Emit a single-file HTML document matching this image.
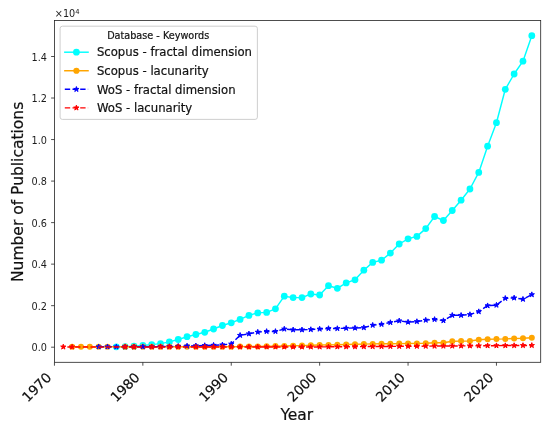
<!DOCTYPE html>
<html><head><meta charset="utf-8"><title>Number of Publications</title>
<style>html,body{margin:0;padding:0;background:#fff}svg{display:block;filter:blur(0.3px)}text{font-family:"DejaVu Sans","Liberation Sans",sans-serif;fill:#111;stroke:#111;stroke-width:0.2px}.s{stroke:none;fill:#1c1c1c}</style></head><body>
<svg width="550" height="428" viewBox="0 0 550 428">
<rect width="550" height="428" fill="#fff"/>
<clipPath id="c"><rect x="54.5" y="20.5" width="486.20000000000005" height="341.8"/></clipPath>
<g clip-path="url(#c)">
<polyline points="116.33,346.80 125.17,346.60 134.01,346.20 142.85,345.50 151.69,344.60 160.53,343.60 169.37,341.90 178.21,339.50 187.05,336.70 195.89,334.50 204.73,332.30 213.57,329.00 222.41,325.50 231.25,322.80 240.09,319.40 248.93,315.40 257.77,312.90 266.61,312.40 275.45,308.80 284.29,296.20 293.13,297.60 301.97,297.60 310.81,294.00 319.65,295.00 328.49,285.70 337.33,288.30 346.17,282.90 355.01,279.80 363.85,270.20 372.69,262.40 381.53,260.20 390.37,253.10 399.21,244.00 408.05,238.80 416.89,236.40 425.73,228.60 434.57,216.50 443.41,220.50 452.25,210.50 461.09,200.20 469.93,189.00 478.77,172.40 487.61,146.20 496.45,122.70 505.29,89.30 514.13,74.00 522.97,61.20 531.81,35.70" fill="none" stroke="#00ffff" stroke-width="1.45" stroke-linejoin="round"/>
<circle cx="116.33" cy="346.80" r="3.39" fill="#00ffff"/>
<circle cx="125.17" cy="346.60" r="3.39" fill="#00ffff"/>
<circle cx="134.01" cy="346.20" r="3.39" fill="#00ffff"/>
<circle cx="142.85" cy="345.50" r="3.39" fill="#00ffff"/>
<circle cx="151.69" cy="344.60" r="3.39" fill="#00ffff"/>
<circle cx="160.53" cy="343.60" r="3.39" fill="#00ffff"/>
<circle cx="169.37" cy="341.90" r="3.39" fill="#00ffff"/>
<circle cx="178.21" cy="339.50" r="3.39" fill="#00ffff"/>
<circle cx="187.05" cy="336.70" r="3.39" fill="#00ffff"/>
<circle cx="195.89" cy="334.50" r="3.39" fill="#00ffff"/>
<circle cx="204.73" cy="332.30" r="3.39" fill="#00ffff"/>
<circle cx="213.57" cy="329.00" r="3.39" fill="#00ffff"/>
<circle cx="222.41" cy="325.50" r="3.39" fill="#00ffff"/>
<circle cx="231.25" cy="322.80" r="3.39" fill="#00ffff"/>
<circle cx="240.09" cy="319.40" r="3.39" fill="#00ffff"/>
<circle cx="248.93" cy="315.40" r="3.39" fill="#00ffff"/>
<circle cx="257.77" cy="312.90" r="3.39" fill="#00ffff"/>
<circle cx="266.61" cy="312.40" r="3.39" fill="#00ffff"/>
<circle cx="275.45" cy="308.80" r="3.39" fill="#00ffff"/>
<circle cx="284.29" cy="296.20" r="3.39" fill="#00ffff"/>
<circle cx="293.13" cy="297.60" r="3.39" fill="#00ffff"/>
<circle cx="301.97" cy="297.60" r="3.39" fill="#00ffff"/>
<circle cx="310.81" cy="294.00" r="3.39" fill="#00ffff"/>
<circle cx="319.65" cy="295.00" r="3.39" fill="#00ffff"/>
<circle cx="328.49" cy="285.70" r="3.39" fill="#00ffff"/>
<circle cx="337.33" cy="288.30" r="3.39" fill="#00ffff"/>
<circle cx="346.17" cy="282.90" r="3.39" fill="#00ffff"/>
<circle cx="355.01" cy="279.80" r="3.39" fill="#00ffff"/>
<circle cx="363.85" cy="270.20" r="3.39" fill="#00ffff"/>
<circle cx="372.69" cy="262.40" r="3.39" fill="#00ffff"/>
<circle cx="381.53" cy="260.20" r="3.39" fill="#00ffff"/>
<circle cx="390.37" cy="253.10" r="3.39" fill="#00ffff"/>
<circle cx="399.21" cy="244.00" r="3.39" fill="#00ffff"/>
<circle cx="408.05" cy="238.80" r="3.39" fill="#00ffff"/>
<circle cx="416.89" cy="236.40" r="3.39" fill="#00ffff"/>
<circle cx="425.73" cy="228.60" r="3.39" fill="#00ffff"/>
<circle cx="434.57" cy="216.50" r="3.39" fill="#00ffff"/>
<circle cx="443.41" cy="220.50" r="3.39" fill="#00ffff"/>
<circle cx="452.25" cy="210.50" r="3.39" fill="#00ffff"/>
<circle cx="461.09" cy="200.20" r="3.39" fill="#00ffff"/>
<circle cx="469.93" cy="189.00" r="3.39" fill="#00ffff"/>
<circle cx="478.77" cy="172.40" r="3.39" fill="#00ffff"/>
<circle cx="487.61" cy="146.20" r="3.39" fill="#00ffff"/>
<circle cx="496.45" cy="122.70" r="3.39" fill="#00ffff"/>
<circle cx="505.29" cy="89.30" r="3.39" fill="#00ffff"/>
<circle cx="514.13" cy="74.00" r="3.39" fill="#00ffff"/>
<circle cx="522.97" cy="61.20" r="3.39" fill="#00ffff"/>
<circle cx="531.81" cy="35.70" r="3.39" fill="#00ffff"/>
<polyline points="72.13,346.80 80.97,346.80 89.81,346.80 98.65,346.80 107.49,346.80 125.17,346.80 134.01,346.80 142.85,346.80 151.69,346.80 160.53,346.80 169.37,346.80 178.21,346.80 187.05,346.80 195.89,346.80 204.73,346.80 213.57,346.80 222.41,346.80 231.25,346.80 240.09,346.60 248.93,346.50 257.77,346.40 266.61,346.30 275.45,346.10 284.29,346.00 293.13,345.80 301.97,345.60 310.81,345.30 319.65,345.00 328.49,344.90 337.33,344.70 346.17,344.50 355.01,344.30 363.85,344.10 372.69,343.90 381.53,343.80 390.37,343.70 399.21,343.60 408.05,343.50 416.89,343.40 425.73,343.30 434.57,342.80 443.41,342.80 452.25,341.30 461.09,341.10 469.93,341.00 478.77,339.80 487.61,339.30 496.45,339.10 505.29,338.90 514.13,338.50 522.97,338.30 531.81,337.80" fill="none" stroke="#ffa500" stroke-width="1.45" stroke-linejoin="round"/>
<circle cx="72.13" cy="346.80" r="3.0" fill="#ffa500"/>
<circle cx="80.97" cy="346.80" r="3.0" fill="#ffa500"/>
<circle cx="89.81" cy="346.80" r="3.0" fill="#ffa500"/>
<circle cx="98.65" cy="346.80" r="3.0" fill="#ffa500"/>
<circle cx="107.49" cy="346.80" r="3.0" fill="#ffa500"/>
<circle cx="125.17" cy="346.80" r="3.0" fill="#ffa500"/>
<circle cx="134.01" cy="346.80" r="3.0" fill="#ffa500"/>
<circle cx="142.85" cy="346.80" r="3.0" fill="#ffa500"/>
<circle cx="151.69" cy="346.80" r="3.0" fill="#ffa500"/>
<circle cx="160.53" cy="346.80" r="3.0" fill="#ffa500"/>
<circle cx="169.37" cy="346.80" r="3.0" fill="#ffa500"/>
<circle cx="178.21" cy="346.80" r="3.0" fill="#ffa500"/>
<circle cx="187.05" cy="346.80" r="3.0" fill="#ffa500"/>
<circle cx="195.89" cy="346.80" r="3.0" fill="#ffa500"/>
<circle cx="204.73" cy="346.80" r="3.0" fill="#ffa500"/>
<circle cx="213.57" cy="346.80" r="3.0" fill="#ffa500"/>
<circle cx="222.41" cy="346.80" r="3.0" fill="#ffa500"/>
<circle cx="231.25" cy="346.80" r="3.0" fill="#ffa500"/>
<circle cx="240.09" cy="346.60" r="3.0" fill="#ffa500"/>
<circle cx="248.93" cy="346.50" r="3.0" fill="#ffa500"/>
<circle cx="257.77" cy="346.40" r="3.0" fill="#ffa500"/>
<circle cx="266.61" cy="346.30" r="3.0" fill="#ffa500"/>
<circle cx="275.45" cy="346.10" r="3.0" fill="#ffa500"/>
<circle cx="284.29" cy="346.00" r="3.0" fill="#ffa500"/>
<circle cx="293.13" cy="345.80" r="3.0" fill="#ffa500"/>
<circle cx="301.97" cy="345.60" r="3.0" fill="#ffa500"/>
<circle cx="310.81" cy="345.30" r="3.0" fill="#ffa500"/>
<circle cx="319.65" cy="345.00" r="3.0" fill="#ffa500"/>
<circle cx="328.49" cy="344.90" r="3.0" fill="#ffa500"/>
<circle cx="337.33" cy="344.70" r="3.0" fill="#ffa500"/>
<circle cx="346.17" cy="344.50" r="3.0" fill="#ffa500"/>
<circle cx="355.01" cy="344.30" r="3.0" fill="#ffa500"/>
<circle cx="363.85" cy="344.10" r="3.0" fill="#ffa500"/>
<circle cx="372.69" cy="343.90" r="3.0" fill="#ffa500"/>
<circle cx="381.53" cy="343.80" r="3.0" fill="#ffa500"/>
<circle cx="390.37" cy="343.70" r="3.0" fill="#ffa500"/>
<circle cx="399.21" cy="343.60" r="3.0" fill="#ffa500"/>
<circle cx="408.05" cy="343.50" r="3.0" fill="#ffa500"/>
<circle cx="416.89" cy="343.40" r="3.0" fill="#ffa500"/>
<circle cx="425.73" cy="343.30" r="3.0" fill="#ffa500"/>
<circle cx="434.57" cy="342.80" r="3.0" fill="#ffa500"/>
<circle cx="443.41" cy="342.80" r="3.0" fill="#ffa500"/>
<circle cx="452.25" cy="341.30" r="3.0" fill="#ffa500"/>
<circle cx="461.09" cy="341.10" r="3.0" fill="#ffa500"/>
<circle cx="469.93" cy="341.00" r="3.0" fill="#ffa500"/>
<circle cx="478.77" cy="339.80" r="3.0" fill="#ffa500"/>
<circle cx="487.61" cy="339.30" r="3.0" fill="#ffa500"/>
<circle cx="496.45" cy="339.10" r="3.0" fill="#ffa500"/>
<circle cx="505.29" cy="338.90" r="3.0" fill="#ffa500"/>
<circle cx="514.13" cy="338.50" r="3.0" fill="#ffa500"/>
<circle cx="522.97" cy="338.30" r="3.0" fill="#ffa500"/>
<circle cx="531.81" cy="337.80" r="3.0" fill="#ffa500"/>
<polyline points="98.65,346.80 107.49,346.80 116.33,346.80 125.17,346.70 134.01,346.70 142.85,346.70 151.69,346.70 160.53,346.60 169.37,346.50 178.21,346.30 187.05,346.00 195.89,345.80 204.73,345.50 213.57,345.20 222.41,344.80 231.25,344.00 240.09,335.30 248.93,333.80 257.77,332.10 266.61,331.40 275.45,331.40 284.29,329.00 293.13,329.80 301.97,329.80 310.81,329.50 319.65,329.00 328.49,328.50 337.33,328.50 346.17,328.20 355.01,328.00 363.85,327.60 372.69,325.20 381.53,324.30 390.37,322.50 399.21,320.80 408.05,322.10 416.89,321.50 425.73,320.10 434.57,319.40 443.41,320.60 452.25,315.30 461.09,315.30 469.93,314.50 478.77,311.60 487.61,305.70 496.45,305.10 505.29,298.30 514.13,297.90 522.97,299.20 531.81,294.60" fill="none" stroke="#0000ff" stroke-width="1.45" stroke-linejoin="round" stroke-dasharray="5.38 2.32"/>
<polygon points="98.65,344.05 99.27,345.95 101.27,345.95 99.65,347.12 100.27,349.02 98.65,347.85 97.03,349.02 97.65,347.12 96.03,345.95 98.03,345.95" fill="#0000ff" stroke="#0000ff" stroke-width="0.97" stroke-linejoin="bevel"/>
<polygon points="107.49,344.05 108.11,345.95 110.11,345.95 108.49,347.12 109.11,349.02 107.49,347.85 105.87,349.02 106.49,347.12 104.87,345.95 106.87,345.95" fill="#0000ff" stroke="#0000ff" stroke-width="0.97" stroke-linejoin="bevel"/>
<polygon points="116.33,344.05 116.95,345.95 118.95,345.95 117.33,347.12 117.95,349.02 116.33,347.85 114.71,349.02 115.33,347.12 113.71,345.95 115.71,345.95" fill="#0000ff" stroke="#0000ff" stroke-width="0.97" stroke-linejoin="bevel"/>
<polygon points="125.17,343.95 125.79,345.85 127.79,345.85 126.17,347.02 126.79,348.92 125.17,347.75 123.55,348.92 124.17,347.02 122.55,345.85 124.55,345.85" fill="#0000ff" stroke="#0000ff" stroke-width="0.97" stroke-linejoin="bevel"/>
<polygon points="134.01,343.95 134.63,345.85 136.63,345.85 135.01,347.02 135.63,348.92 134.01,347.75 132.39,348.92 133.01,347.02 131.39,345.85 133.39,345.85" fill="#0000ff" stroke="#0000ff" stroke-width="0.97" stroke-linejoin="bevel"/>
<polygon points="142.85,343.95 143.47,345.85 145.47,345.85 143.85,347.02 144.47,348.92 142.85,347.75 141.23,348.92 141.85,347.02 140.23,345.85 142.23,345.85" fill="#0000ff" stroke="#0000ff" stroke-width="0.97" stroke-linejoin="bevel"/>
<polygon points="151.69,343.95 152.31,345.85 154.31,345.85 152.69,347.02 153.31,348.92 151.69,347.75 150.07,348.92 150.69,347.02 149.07,345.85 151.07,345.85" fill="#0000ff" stroke="#0000ff" stroke-width="0.97" stroke-linejoin="bevel"/>
<polygon points="160.53,343.85 161.15,345.75 163.15,345.75 161.53,346.92 162.15,348.82 160.53,347.65 158.91,348.82 159.53,346.92 157.91,345.75 159.91,345.75" fill="#0000ff" stroke="#0000ff" stroke-width="0.97" stroke-linejoin="bevel"/>
<polygon points="169.37,343.75 169.99,345.65 171.99,345.65 170.37,346.82 170.99,348.72 169.37,347.55 167.75,348.72 168.37,346.82 166.75,345.65 168.75,345.65" fill="#0000ff" stroke="#0000ff" stroke-width="0.97" stroke-linejoin="bevel"/>
<polygon points="178.21,343.55 178.83,345.45 180.83,345.45 179.21,346.62 179.83,348.52 178.21,347.35 176.59,348.52 177.21,346.62 175.59,345.45 177.59,345.45" fill="#0000ff" stroke="#0000ff" stroke-width="0.97" stroke-linejoin="bevel"/>
<polygon points="187.05,343.25 187.67,345.15 189.67,345.15 188.05,346.32 188.67,348.22 187.05,347.05 185.43,348.22 186.05,346.32 184.43,345.15 186.43,345.15" fill="#0000ff" stroke="#0000ff" stroke-width="0.97" stroke-linejoin="bevel"/>
<polygon points="195.89,343.05 196.51,344.95 198.51,344.95 196.89,346.12 197.51,348.02 195.89,346.85 194.27,348.02 194.89,346.12 193.27,344.95 195.27,344.95" fill="#0000ff" stroke="#0000ff" stroke-width="0.97" stroke-linejoin="bevel"/>
<polygon points="204.73,342.75 205.35,344.65 207.35,344.65 205.73,345.82 206.35,347.72 204.73,346.55 203.11,347.72 203.73,345.82 202.11,344.65 204.11,344.65" fill="#0000ff" stroke="#0000ff" stroke-width="0.97" stroke-linejoin="bevel"/>
<polygon points="213.57,342.45 214.19,344.35 216.19,344.35 214.57,345.52 215.19,347.42 213.57,346.25 211.95,347.42 212.57,345.52 210.95,344.35 212.95,344.35" fill="#0000ff" stroke="#0000ff" stroke-width="0.97" stroke-linejoin="bevel"/>
<polygon points="222.41,342.05 223.03,343.95 225.03,343.95 223.41,345.12 224.03,347.02 222.41,345.85 220.79,347.02 221.41,345.12 219.79,343.95 221.79,343.95" fill="#0000ff" stroke="#0000ff" stroke-width="0.97" stroke-linejoin="bevel"/>
<polygon points="231.25,341.25 231.87,343.15 233.87,343.15 232.25,344.32 232.87,346.22 231.25,345.05 229.63,346.22 230.25,344.32 228.63,343.15 230.63,343.15" fill="#0000ff" stroke="#0000ff" stroke-width="0.97" stroke-linejoin="bevel"/>
<polygon points="240.09,332.55 240.71,334.45 242.71,334.45 241.09,335.62 241.71,337.52 240.09,336.35 238.47,337.52 239.09,335.62 237.47,334.45 239.47,334.45" fill="#0000ff" stroke="#0000ff" stroke-width="0.97" stroke-linejoin="bevel"/>
<polygon points="248.93,331.05 249.55,332.95 251.55,332.95 249.93,334.12 250.55,336.02 248.93,334.85 247.31,336.02 247.93,334.12 246.31,332.95 248.31,332.95" fill="#0000ff" stroke="#0000ff" stroke-width="0.97" stroke-linejoin="bevel"/>
<polygon points="257.77,329.35 258.39,331.25 260.39,331.25 258.77,332.42 259.39,334.32 257.77,333.15 256.15,334.32 256.77,332.42 255.15,331.25 257.15,331.25" fill="#0000ff" stroke="#0000ff" stroke-width="0.97" stroke-linejoin="bevel"/>
<polygon points="266.61,328.65 267.23,330.55 269.23,330.55 267.61,331.72 268.23,333.62 266.61,332.45 264.99,333.62 265.61,331.72 263.99,330.55 265.99,330.55" fill="#0000ff" stroke="#0000ff" stroke-width="0.97" stroke-linejoin="bevel"/>
<polygon points="275.45,328.65 276.07,330.55 278.07,330.55 276.45,331.72 277.07,333.62 275.45,332.45 273.83,333.62 274.45,331.72 272.83,330.55 274.83,330.55" fill="#0000ff" stroke="#0000ff" stroke-width="0.97" stroke-linejoin="bevel"/>
<polygon points="284.29,326.25 284.91,328.15 286.91,328.15 285.29,329.32 285.91,331.22 284.29,330.05 282.67,331.22 283.29,329.32 281.67,328.15 283.67,328.15" fill="#0000ff" stroke="#0000ff" stroke-width="0.97" stroke-linejoin="bevel"/>
<polygon points="293.13,327.05 293.75,328.95 295.75,328.95 294.13,330.12 294.75,332.02 293.13,330.85 291.51,332.02 292.13,330.12 290.51,328.95 292.51,328.95" fill="#0000ff" stroke="#0000ff" stroke-width="0.97" stroke-linejoin="bevel"/>
<polygon points="301.97,327.05 302.59,328.95 304.59,328.95 302.97,330.12 303.59,332.02 301.97,330.85 300.35,332.02 300.97,330.12 299.35,328.95 301.35,328.95" fill="#0000ff" stroke="#0000ff" stroke-width="0.97" stroke-linejoin="bevel"/>
<polygon points="310.81,326.75 311.43,328.65 313.43,328.65 311.81,329.82 312.43,331.72 310.81,330.55 309.19,331.72 309.81,329.82 308.19,328.65 310.19,328.65" fill="#0000ff" stroke="#0000ff" stroke-width="0.97" stroke-linejoin="bevel"/>
<polygon points="319.65,326.25 320.27,328.15 322.27,328.15 320.65,329.32 321.27,331.22 319.65,330.05 318.03,331.22 318.65,329.32 317.03,328.15 319.03,328.15" fill="#0000ff" stroke="#0000ff" stroke-width="0.97" stroke-linejoin="bevel"/>
<polygon points="328.49,325.75 329.11,327.65 331.11,327.65 329.49,328.82 330.11,330.72 328.49,329.55 326.87,330.72 327.49,328.82 325.87,327.65 327.87,327.65" fill="#0000ff" stroke="#0000ff" stroke-width="0.97" stroke-linejoin="bevel"/>
<polygon points="337.33,325.75 337.95,327.65 339.95,327.65 338.33,328.82 338.95,330.72 337.33,329.55 335.71,330.72 336.33,328.82 334.71,327.65 336.71,327.65" fill="#0000ff" stroke="#0000ff" stroke-width="0.97" stroke-linejoin="bevel"/>
<polygon points="346.17,325.45 346.79,327.35 348.79,327.35 347.17,328.52 347.79,330.42 346.17,329.25 344.55,330.42 345.17,328.52 343.55,327.35 345.55,327.35" fill="#0000ff" stroke="#0000ff" stroke-width="0.97" stroke-linejoin="bevel"/>
<polygon points="355.01,325.25 355.63,327.15 357.63,327.15 356.01,328.32 356.63,330.22 355.01,329.05 353.39,330.22 354.01,328.32 352.39,327.15 354.39,327.15" fill="#0000ff" stroke="#0000ff" stroke-width="0.97" stroke-linejoin="bevel"/>
<polygon points="363.85,324.85 364.47,326.75 366.47,326.75 364.85,327.92 365.47,329.82 363.85,328.65 362.23,329.82 362.85,327.92 361.23,326.75 363.23,326.75" fill="#0000ff" stroke="#0000ff" stroke-width="0.97" stroke-linejoin="bevel"/>
<polygon points="372.69,322.45 373.31,324.35 375.31,324.35 373.69,325.52 374.31,327.42 372.69,326.25 371.07,327.42 371.69,325.52 370.07,324.35 372.07,324.35" fill="#0000ff" stroke="#0000ff" stroke-width="0.97" stroke-linejoin="bevel"/>
<polygon points="381.53,321.55 382.15,323.45 384.15,323.45 382.53,324.62 383.15,326.52 381.53,325.35 379.91,326.52 380.53,324.62 378.91,323.45 380.91,323.45" fill="#0000ff" stroke="#0000ff" stroke-width="0.97" stroke-linejoin="bevel"/>
<polygon points="390.37,319.75 390.99,321.65 392.99,321.65 391.37,322.82 391.99,324.72 390.37,323.55 388.75,324.72 389.37,322.82 387.75,321.65 389.75,321.65" fill="#0000ff" stroke="#0000ff" stroke-width="0.97" stroke-linejoin="bevel"/>
<polygon points="399.21,318.05 399.83,319.95 401.83,319.95 400.21,321.12 400.83,323.02 399.21,321.85 397.59,323.02 398.21,321.12 396.59,319.95 398.59,319.95" fill="#0000ff" stroke="#0000ff" stroke-width="0.97" stroke-linejoin="bevel"/>
<polygon points="408.05,319.35 408.67,321.25 410.67,321.25 409.05,322.42 409.67,324.32 408.05,323.15 406.43,324.32 407.05,322.42 405.43,321.25 407.43,321.25" fill="#0000ff" stroke="#0000ff" stroke-width="0.97" stroke-linejoin="bevel"/>
<polygon points="416.89,318.75 417.51,320.65 419.51,320.65 417.89,321.82 418.51,323.72 416.89,322.55 415.27,323.72 415.89,321.82 414.27,320.65 416.27,320.65" fill="#0000ff" stroke="#0000ff" stroke-width="0.97" stroke-linejoin="bevel"/>
<polygon points="425.73,317.35 426.35,319.25 428.35,319.25 426.73,320.42 427.35,322.32 425.73,321.15 424.11,322.32 424.73,320.42 423.11,319.25 425.11,319.25" fill="#0000ff" stroke="#0000ff" stroke-width="0.97" stroke-linejoin="bevel"/>
<polygon points="434.57,316.65 435.19,318.55 437.19,318.55 435.57,319.72 436.19,321.62 434.57,320.45 432.95,321.62 433.57,319.72 431.95,318.55 433.95,318.55" fill="#0000ff" stroke="#0000ff" stroke-width="0.97" stroke-linejoin="bevel"/>
<polygon points="443.41,317.85 444.03,319.75 446.03,319.75 444.41,320.92 445.03,322.82 443.41,321.65 441.79,322.82 442.41,320.92 440.79,319.75 442.79,319.75" fill="#0000ff" stroke="#0000ff" stroke-width="0.97" stroke-linejoin="bevel"/>
<polygon points="452.25,312.55 452.87,314.45 454.87,314.45 453.25,315.62 453.87,317.52 452.25,316.35 450.63,317.52 451.25,315.62 449.63,314.45 451.63,314.45" fill="#0000ff" stroke="#0000ff" stroke-width="0.97" stroke-linejoin="bevel"/>
<polygon points="461.09,312.55 461.71,314.45 463.71,314.45 462.09,315.62 462.71,317.52 461.09,316.35 459.47,317.52 460.09,315.62 458.47,314.45 460.47,314.45" fill="#0000ff" stroke="#0000ff" stroke-width="0.97" stroke-linejoin="bevel"/>
<polygon points="469.93,311.75 470.55,313.65 472.55,313.65 470.93,314.82 471.55,316.72 469.93,315.55 468.31,316.72 468.93,314.82 467.31,313.65 469.31,313.65" fill="#0000ff" stroke="#0000ff" stroke-width="0.97" stroke-linejoin="bevel"/>
<polygon points="478.77,308.85 479.39,310.75 481.39,310.75 479.77,311.92 480.39,313.82 478.77,312.65 477.15,313.82 477.77,311.92 476.15,310.75 478.15,310.75" fill="#0000ff" stroke="#0000ff" stroke-width="0.97" stroke-linejoin="bevel"/>
<polygon points="487.61,302.95 488.23,304.85 490.23,304.85 488.61,306.02 489.23,307.92 487.61,306.75 485.99,307.92 486.61,306.02 484.99,304.85 486.99,304.85" fill="#0000ff" stroke="#0000ff" stroke-width="0.97" stroke-linejoin="bevel"/>
<polygon points="496.45,302.35 497.07,304.25 499.07,304.25 497.45,305.42 498.07,307.32 496.45,306.15 494.83,307.32 495.45,305.42 493.83,304.25 495.83,304.25" fill="#0000ff" stroke="#0000ff" stroke-width="0.97" stroke-linejoin="bevel"/>
<polygon points="505.29,295.55 505.91,297.45 507.91,297.45 506.29,298.62 506.91,300.52 505.29,299.35 503.67,300.52 504.29,298.62 502.67,297.45 504.67,297.45" fill="#0000ff" stroke="#0000ff" stroke-width="0.97" stroke-linejoin="bevel"/>
<polygon points="514.13,295.15 514.75,297.05 516.75,297.05 515.13,298.22 515.75,300.12 514.13,298.95 512.51,300.12 513.13,298.22 511.51,297.05 513.51,297.05" fill="#0000ff" stroke="#0000ff" stroke-width="0.97" stroke-linejoin="bevel"/>
<polygon points="522.97,296.45 523.59,298.35 525.59,298.35 523.97,299.52 524.59,301.42 522.97,300.25 521.35,301.42 521.97,299.52 520.35,298.35 522.35,298.35" fill="#0000ff" stroke="#0000ff" stroke-width="0.97" stroke-linejoin="bevel"/>
<polygon points="531.81,291.85 532.43,293.75 534.43,293.75 532.81,294.92 533.43,296.82 531.81,295.65 530.19,296.82 530.81,294.92 529.19,293.75 531.19,293.75" fill="#0000ff" stroke="#0000ff" stroke-width="0.97" stroke-linejoin="bevel"/>
<polyline points="63.29,346.90 72.13,346.90 125.17,346.90 134.01,346.90 151.69,346.90 160.53,346.90 169.37,346.90 178.21,346.90 195.89,346.90 204.73,346.90 213.57,346.90 222.41,346.90 231.25,346.90 240.09,346.90 248.93,346.90 257.77,346.90 266.61,346.90 275.45,346.90 284.29,346.90 293.13,346.90 301.97,346.90 310.81,346.90 319.65,346.90 328.49,346.84 337.33,346.77 346.17,346.71 355.01,346.65 363.85,346.59 372.69,346.52 381.53,346.46 390.37,346.40 399.21,346.34 408.05,346.27 416.89,346.21 425.73,346.15 434.57,346.09 443.41,346.02 452.25,345.96 461.09,345.90 469.93,345.84 478.77,345.77 487.61,345.71 496.45,345.65 505.29,345.59 514.13,345.52 522.97,345.46 531.81,345.40" fill="none" stroke="#ff0000" stroke-width="1.45" stroke-linejoin="round" stroke-dasharray="5.38 2.32" stroke-dashoffset="3.6"/>
<polygon points="63.29,344.15 63.91,346.05 65.91,346.05 64.29,347.22 64.91,349.12 63.29,347.95 61.67,349.12 62.29,347.22 60.67,346.05 62.67,346.05" fill="#ff0000" stroke="#ff0000" stroke-width="0.97" stroke-linejoin="bevel"/>
<polygon points="72.13,344.15 72.75,346.05 74.75,346.05 73.13,347.22 73.75,349.12 72.13,347.95 70.51,349.12 71.13,347.22 69.51,346.05 71.51,346.05" fill="#ff0000" stroke="#ff0000" stroke-width="0.97" stroke-linejoin="bevel"/>
<polygon points="125.17,344.15 125.79,346.05 127.79,346.05 126.17,347.22 126.79,349.12 125.17,347.95 123.55,349.12 124.17,347.22 122.55,346.05 124.55,346.05" fill="#ff0000" stroke="#ff0000" stroke-width="0.97" stroke-linejoin="bevel"/>
<polygon points="134.01,344.15 134.63,346.05 136.63,346.05 135.01,347.22 135.63,349.12 134.01,347.95 132.39,349.12 133.01,347.22 131.39,346.05 133.39,346.05" fill="#ff0000" stroke="#ff0000" stroke-width="0.97" stroke-linejoin="bevel"/>
<polygon points="151.69,344.15 152.31,346.05 154.31,346.05 152.69,347.22 153.31,349.12 151.69,347.95 150.07,349.12 150.69,347.22 149.07,346.05 151.07,346.05" fill="#ff0000" stroke="#ff0000" stroke-width="0.97" stroke-linejoin="bevel"/>
<polygon points="160.53,344.15 161.15,346.05 163.15,346.05 161.53,347.22 162.15,349.12 160.53,347.95 158.91,349.12 159.53,347.22 157.91,346.05 159.91,346.05" fill="#ff0000" stroke="#ff0000" stroke-width="0.97" stroke-linejoin="bevel"/>
<polygon points="169.37,344.15 169.99,346.05 171.99,346.05 170.37,347.22 170.99,349.12 169.37,347.95 167.75,349.12 168.37,347.22 166.75,346.05 168.75,346.05" fill="#ff0000" stroke="#ff0000" stroke-width="0.97" stroke-linejoin="bevel"/>
<polygon points="178.21,344.15 178.83,346.05 180.83,346.05 179.21,347.22 179.83,349.12 178.21,347.95 176.59,349.12 177.21,347.22 175.59,346.05 177.59,346.05" fill="#ff0000" stroke="#ff0000" stroke-width="0.97" stroke-linejoin="bevel"/>
<polygon points="195.89,344.15 196.51,346.05 198.51,346.05 196.89,347.22 197.51,349.12 195.89,347.95 194.27,349.12 194.89,347.22 193.27,346.05 195.27,346.05" fill="#ff0000" stroke="#ff0000" stroke-width="0.97" stroke-linejoin="bevel"/>
<polygon points="204.73,344.15 205.35,346.05 207.35,346.05 205.73,347.22 206.35,349.12 204.73,347.95 203.11,349.12 203.73,347.22 202.11,346.05 204.11,346.05" fill="#ff0000" stroke="#ff0000" stroke-width="0.97" stroke-linejoin="bevel"/>
<polygon points="213.57,344.15 214.19,346.05 216.19,346.05 214.57,347.22 215.19,349.12 213.57,347.95 211.95,349.12 212.57,347.22 210.95,346.05 212.95,346.05" fill="#ff0000" stroke="#ff0000" stroke-width="0.97" stroke-linejoin="bevel"/>
<polygon points="222.41,344.15 223.03,346.05 225.03,346.05 223.41,347.22 224.03,349.12 222.41,347.95 220.79,349.12 221.41,347.22 219.79,346.05 221.79,346.05" fill="#ff0000" stroke="#ff0000" stroke-width="0.97" stroke-linejoin="bevel"/>
<polygon points="231.25,344.15 231.87,346.05 233.87,346.05 232.25,347.22 232.87,349.12 231.25,347.95 229.63,349.12 230.25,347.22 228.63,346.05 230.63,346.05" fill="#ff0000" stroke="#ff0000" stroke-width="0.97" stroke-linejoin="bevel"/>
<polygon points="240.09,344.15 240.71,346.05 242.71,346.05 241.09,347.22 241.71,349.12 240.09,347.95 238.47,349.12 239.09,347.22 237.47,346.05 239.47,346.05" fill="#ff0000" stroke="#ff0000" stroke-width="0.97" stroke-linejoin="bevel"/>
<polygon points="248.93,344.15 249.55,346.05 251.55,346.05 249.93,347.22 250.55,349.12 248.93,347.95 247.31,349.12 247.93,347.22 246.31,346.05 248.31,346.05" fill="#ff0000" stroke="#ff0000" stroke-width="0.97" stroke-linejoin="bevel"/>
<polygon points="257.77,344.15 258.39,346.05 260.39,346.05 258.77,347.22 259.39,349.12 257.77,347.95 256.15,349.12 256.77,347.22 255.15,346.05 257.15,346.05" fill="#ff0000" stroke="#ff0000" stroke-width="0.97" stroke-linejoin="bevel"/>
<polygon points="266.61,344.15 267.23,346.05 269.23,346.05 267.61,347.22 268.23,349.12 266.61,347.95 264.99,349.12 265.61,347.22 263.99,346.05 265.99,346.05" fill="#ff0000" stroke="#ff0000" stroke-width="0.97" stroke-linejoin="bevel"/>
<polygon points="275.45,344.15 276.07,346.05 278.07,346.05 276.45,347.22 277.07,349.12 275.45,347.95 273.83,349.12 274.45,347.22 272.83,346.05 274.83,346.05" fill="#ff0000" stroke="#ff0000" stroke-width="0.97" stroke-linejoin="bevel"/>
<polygon points="284.29,344.15 284.91,346.05 286.91,346.05 285.29,347.22 285.91,349.12 284.29,347.95 282.67,349.12 283.29,347.22 281.67,346.05 283.67,346.05" fill="#ff0000" stroke="#ff0000" stroke-width="0.97" stroke-linejoin="bevel"/>
<polygon points="293.13,344.15 293.75,346.05 295.75,346.05 294.13,347.22 294.75,349.12 293.13,347.95 291.51,349.12 292.13,347.22 290.51,346.05 292.51,346.05" fill="#ff0000" stroke="#ff0000" stroke-width="0.97" stroke-linejoin="bevel"/>
<polygon points="301.97,344.15 302.59,346.05 304.59,346.05 302.97,347.22 303.59,349.12 301.97,347.95 300.35,349.12 300.97,347.22 299.35,346.05 301.35,346.05" fill="#ff0000" stroke="#ff0000" stroke-width="0.97" stroke-linejoin="bevel"/>
<polygon points="310.81,344.15 311.43,346.05 313.43,346.05 311.81,347.22 312.43,349.12 310.81,347.95 309.19,349.12 309.81,347.22 308.19,346.05 310.19,346.05" fill="#ff0000" stroke="#ff0000" stroke-width="0.97" stroke-linejoin="bevel"/>
<polygon points="319.65,344.15 320.27,346.05 322.27,346.05 320.65,347.22 321.27,349.12 319.65,347.95 318.03,349.12 318.65,347.22 317.03,346.05 319.03,346.05" fill="#ff0000" stroke="#ff0000" stroke-width="0.97" stroke-linejoin="bevel"/>
<polygon points="328.49,344.09 329.11,345.99 331.11,345.99 329.49,347.16 330.11,349.06 328.49,347.89 326.87,349.06 327.49,347.16 325.87,345.99 327.87,345.99" fill="#ff0000" stroke="#ff0000" stroke-width="0.97" stroke-linejoin="bevel"/>
<polygon points="337.33,344.02 337.95,345.93 339.95,345.93 338.33,347.10 338.95,349.00 337.33,347.83 335.71,349.00 336.33,347.10 334.71,345.93 336.71,345.93" fill="#ff0000" stroke="#ff0000" stroke-width="0.97" stroke-linejoin="bevel"/>
<polygon points="346.17,343.96 346.79,345.86 348.79,345.86 347.17,347.04 347.79,348.94 346.17,347.76 344.55,348.94 345.17,347.04 343.55,345.86 345.55,345.86" fill="#ff0000" stroke="#ff0000" stroke-width="0.97" stroke-linejoin="bevel"/>
<polygon points="355.01,343.90 355.63,345.80 357.63,345.80 356.01,346.97 356.63,348.87 355.01,347.70 353.39,348.87 354.01,346.97 352.39,345.80 354.39,345.80" fill="#ff0000" stroke="#ff0000" stroke-width="0.97" stroke-linejoin="bevel"/>
<polygon points="363.85,343.84 364.47,345.74 366.47,345.74 364.85,346.91 365.47,348.81 363.85,347.64 362.23,348.81 362.85,346.91 361.23,345.74 363.23,345.74" fill="#ff0000" stroke="#ff0000" stroke-width="0.97" stroke-linejoin="bevel"/>
<polygon points="372.69,343.77 373.31,345.68 375.31,345.68 373.69,346.85 374.31,348.75 372.69,347.58 371.07,348.75 371.69,346.85 370.07,345.68 372.07,345.68" fill="#ff0000" stroke="#ff0000" stroke-width="0.97" stroke-linejoin="bevel"/>
<polygon points="381.53,343.71 382.15,345.61 384.15,345.61 382.53,346.79 383.15,348.69 381.53,347.51 379.91,348.69 380.53,346.79 378.91,345.61 380.91,345.61" fill="#ff0000" stroke="#ff0000" stroke-width="0.97" stroke-linejoin="bevel"/>
<polygon points="390.37,343.65 390.99,345.55 392.99,345.55 391.37,346.72 391.99,348.62 390.37,347.45 388.75,348.62 389.37,346.72 387.75,345.55 389.75,345.55" fill="#ff0000" stroke="#ff0000" stroke-width="0.97" stroke-linejoin="bevel"/>
<polygon points="399.21,343.59 399.83,345.49 401.83,345.49 400.21,346.66 400.83,348.56 399.21,347.39 397.59,348.56 398.21,346.66 396.59,345.49 398.59,345.49" fill="#ff0000" stroke="#ff0000" stroke-width="0.97" stroke-linejoin="bevel"/>
<polygon points="408.05,343.52 408.67,345.43 410.67,345.43 409.05,346.60 409.67,348.50 408.05,347.33 406.43,348.50 407.05,346.60 405.43,345.43 407.43,345.43" fill="#ff0000" stroke="#ff0000" stroke-width="0.97" stroke-linejoin="bevel"/>
<polygon points="416.89,343.46 417.51,345.36 419.51,345.36 417.89,346.54 418.51,348.44 416.89,347.26 415.27,348.44 415.89,346.54 414.27,345.36 416.27,345.36" fill="#ff0000" stroke="#ff0000" stroke-width="0.97" stroke-linejoin="bevel"/>
<polygon points="425.73,343.40 426.35,345.30 428.35,345.30 426.73,346.47 427.35,348.37 425.73,347.20 424.11,348.37 424.73,346.47 423.11,345.30 425.11,345.30" fill="#ff0000" stroke="#ff0000" stroke-width="0.97" stroke-linejoin="bevel"/>
<polygon points="434.57,343.34 435.19,345.24 437.19,345.24 435.57,346.41 436.19,348.31 434.57,347.14 432.95,348.31 433.57,346.41 431.95,345.24 433.95,345.24" fill="#ff0000" stroke="#ff0000" stroke-width="0.97" stroke-linejoin="bevel"/>
<polygon points="443.41,343.27 444.03,345.18 446.03,345.18 444.41,346.35 445.03,348.25 443.41,347.08 441.79,348.25 442.41,346.35 440.79,345.18 442.79,345.18" fill="#ff0000" stroke="#ff0000" stroke-width="0.97" stroke-linejoin="bevel"/>
<polygon points="452.25,343.21 452.87,345.11 454.87,345.11 453.25,346.29 453.87,348.19 452.25,347.01 450.63,348.19 451.25,346.29 449.63,345.11 451.63,345.11" fill="#ff0000" stroke="#ff0000" stroke-width="0.97" stroke-linejoin="bevel"/>
<polygon points="461.09,343.15 461.71,345.05 463.71,345.05 462.09,346.22 462.71,348.12 461.09,346.95 459.47,348.12 460.09,346.22 458.47,345.05 460.47,345.05" fill="#ff0000" stroke="#ff0000" stroke-width="0.97" stroke-linejoin="bevel"/>
<polygon points="469.93,343.09 470.55,344.99 472.55,344.99 470.93,346.16 471.55,348.06 469.93,346.89 468.31,348.06 468.93,346.16 467.31,344.99 469.31,344.99" fill="#ff0000" stroke="#ff0000" stroke-width="0.97" stroke-linejoin="bevel"/>
<polygon points="478.77,343.02 479.39,344.93 481.39,344.93 479.77,346.10 480.39,348.00 478.77,346.83 477.15,348.00 477.77,346.10 476.15,344.93 478.15,344.93" fill="#ff0000" stroke="#ff0000" stroke-width="0.97" stroke-linejoin="bevel"/>
<polygon points="487.61,342.96 488.23,344.86 490.23,344.86 488.61,346.04 489.23,347.94 487.61,346.76 485.99,347.94 486.61,346.04 484.99,344.86 486.99,344.86" fill="#ff0000" stroke="#ff0000" stroke-width="0.97" stroke-linejoin="bevel"/>
<polygon points="496.45,342.90 497.07,344.80 499.07,344.80 497.45,345.97 498.07,347.87 496.45,346.70 494.83,347.87 495.45,345.97 493.83,344.80 495.83,344.80" fill="#ff0000" stroke="#ff0000" stroke-width="0.97" stroke-linejoin="bevel"/>
<polygon points="505.29,342.84 505.91,344.74 507.91,344.74 506.29,345.91 506.91,347.81 505.29,346.64 503.67,347.81 504.29,345.91 502.67,344.74 504.67,344.74" fill="#ff0000" stroke="#ff0000" stroke-width="0.97" stroke-linejoin="bevel"/>
<polygon points="514.13,342.77 514.75,344.68 516.75,344.68 515.13,345.85 515.75,347.75 514.13,346.58 512.51,347.75 513.13,345.85 511.51,344.68 513.51,344.68" fill="#ff0000" stroke="#ff0000" stroke-width="0.97" stroke-linejoin="bevel"/>
<polygon points="522.97,342.71 523.59,344.61 525.59,344.61 523.97,345.79 524.59,347.69 522.97,346.51 521.35,347.69 521.97,345.79 520.35,344.61 522.35,344.61" fill="#ff0000" stroke="#ff0000" stroke-width="0.97" stroke-linejoin="bevel"/>
<polygon points="531.81,342.65 532.43,344.55 534.43,344.55 532.81,345.72 533.43,347.62 531.81,346.45 530.19,347.62 530.81,345.72 529.19,344.55 531.19,344.55" fill="#ff0000" stroke="#ff0000" stroke-width="0.97" stroke-linejoin="bevel"/>
</g>
<rect x="54.5" y="20.5" width="486.20000000000005" height="341.8" fill="none" stroke="#222" stroke-width="0.8"/>
<line x1="54.45" y1="362.3" x2="54.45" y2="365.7" stroke="#222" stroke-width="0.8"/>
<text transform="translate(52.25,378.30) rotate(-45)" text-anchor="end" font-size="13.56">1970</text>
<line x1="142.85" y1="362.3" x2="142.85" y2="365.7" stroke="#222" stroke-width="0.8"/>
<text transform="translate(140.65,378.30) rotate(-45)" text-anchor="end" font-size="13.56">1980</text>
<line x1="231.25" y1="362.3" x2="231.25" y2="365.7" stroke="#222" stroke-width="0.8"/>
<text transform="translate(229.05,378.30) rotate(-45)" text-anchor="end" font-size="13.56">1990</text>
<line x1="319.65" y1="362.3" x2="319.65" y2="365.7" stroke="#222" stroke-width="0.8"/>
<text transform="translate(317.45,378.30) rotate(-45)" text-anchor="end" font-size="13.56">2000</text>
<line x1="408.05" y1="362.3" x2="408.05" y2="365.7" stroke="#222" stroke-width="0.8"/>
<text transform="translate(405.85,378.30) rotate(-45)" text-anchor="end" font-size="13.56">2010</text>
<line x1="496.45" y1="362.3" x2="496.45" y2="365.7" stroke="#222" stroke-width="0.8"/>
<text transform="translate(494.25,378.30) rotate(-45)" text-anchor="end" font-size="13.56">2020</text>
<line x1="51.1" y1="347.20" x2="54.5" y2="347.20" stroke="#222" stroke-width="0.8"/>
<text x="46.90" y="351.20" text-anchor="end" class="s" font-size="9.69">0.0</text>
<line x1="51.1" y1="305.67" x2="54.5" y2="305.67" stroke="#222" stroke-width="0.8"/>
<text x="46.90" y="309.67" text-anchor="end" class="s" font-size="9.69">0.2</text>
<line x1="51.1" y1="264.14" x2="54.5" y2="264.14" stroke="#222" stroke-width="0.8"/>
<text x="46.90" y="268.14" text-anchor="end" class="s" font-size="9.69">0.4</text>
<line x1="51.1" y1="222.62" x2="54.5" y2="222.62" stroke="#222" stroke-width="0.8"/>
<text x="46.90" y="226.62" text-anchor="end" class="s" font-size="9.69">0.6</text>
<line x1="51.1" y1="181.09" x2="54.5" y2="181.09" stroke="#222" stroke-width="0.8"/>
<text x="46.90" y="185.09" text-anchor="end" class="s" font-size="9.69">0.8</text>
<line x1="51.1" y1="139.56" x2="54.5" y2="139.56" stroke="#222" stroke-width="0.8"/>
<text x="46.90" y="143.56" text-anchor="end" class="s" font-size="9.69">1.0</text>
<line x1="51.1" y1="98.03" x2="54.5" y2="98.03" stroke="#222" stroke-width="0.8"/>
<text x="46.90" y="102.03" text-anchor="end" class="s" font-size="9.69">1.2</text>
<line x1="51.1" y1="56.50" x2="54.5" y2="56.50" stroke="#222" stroke-width="0.8"/>
<text x="46.90" y="60.50" text-anchor="end" class="s" font-size="9.69">1.4</text>
<text x="54.8" y="17.2" class="s" font-size="9.69">×10<tspan dy="-3.7" font-size="6.8">4</tspan></text>
<text x="296.80" y="419.5" text-anchor="middle" font-size="15.5">Year</text>
<text transform="translate(23.1,191.90) rotate(-90)" text-anchor="middle" font-size="15.5">Number of Publications</text>
<rect x="60.1" y="26.2" width="197.3" height="93.2" rx="2.3" fill="#fff" fill-opacity="0.8" stroke="#ccc" stroke-width="0.97"/>
<text x="158.2" y="39.2" text-anchor="middle" font-size="9.69">Database - Keywords</text>
<line x1="64.1" y1="52.20" x2="88.8" y2="52.20" stroke="#00ffff" stroke-width="1.45"/>
<circle cx="76.4" cy="52.20" r="3.39" fill="#00ffff"/>
<text x="96.9" y="56.30" font-size="11.68">Scopus - fractal dimension</text>
<line x1="64.1" y1="70.75" x2="88.8" y2="70.75" stroke="#ffa500" stroke-width="1.45"/>
<circle cx="76.4" cy="70.75" r="3.1" fill="#ffa500"/>
<text x="96.9" y="74.90" font-size="11.68">Scopus - lacunarity</text>
<line x1="64.8" y1="89.30" x2="88.1" y2="89.30" stroke="#0000ff" stroke-width="1.45" stroke-dasharray="5.38 2.32"/>
<polygon points="76.40,86.55 77.02,88.45 79.02,88.45 77.40,89.62 78.02,91.52 76.40,90.35 74.78,91.52 75.40,89.62 73.78,88.45 75.78,88.45" fill="#0000ff" stroke="#0000ff" stroke-width="0.97" stroke-linejoin="bevel"/>
<text x="96.9" y="93.50" font-size="11.68">WoS - fractal dimension</text>
<line x1="64.8" y1="107.85" x2="88.1" y2="107.85" stroke="#ff0000" stroke-width="1.45" stroke-dasharray="5.38 2.32"/>
<polygon points="76.40,105.10 77.02,107.00 79.02,107.00 77.40,108.17 78.02,110.07 76.40,108.90 74.78,110.07 75.40,108.17 73.78,107.00 75.78,107.00" fill="#ff0000" stroke="#ff0000" stroke-width="0.97" stroke-linejoin="bevel"/>
<text x="96.9" y="112.10" font-size="11.68">WoS - lacunarity</text>
</svg></body></html>
